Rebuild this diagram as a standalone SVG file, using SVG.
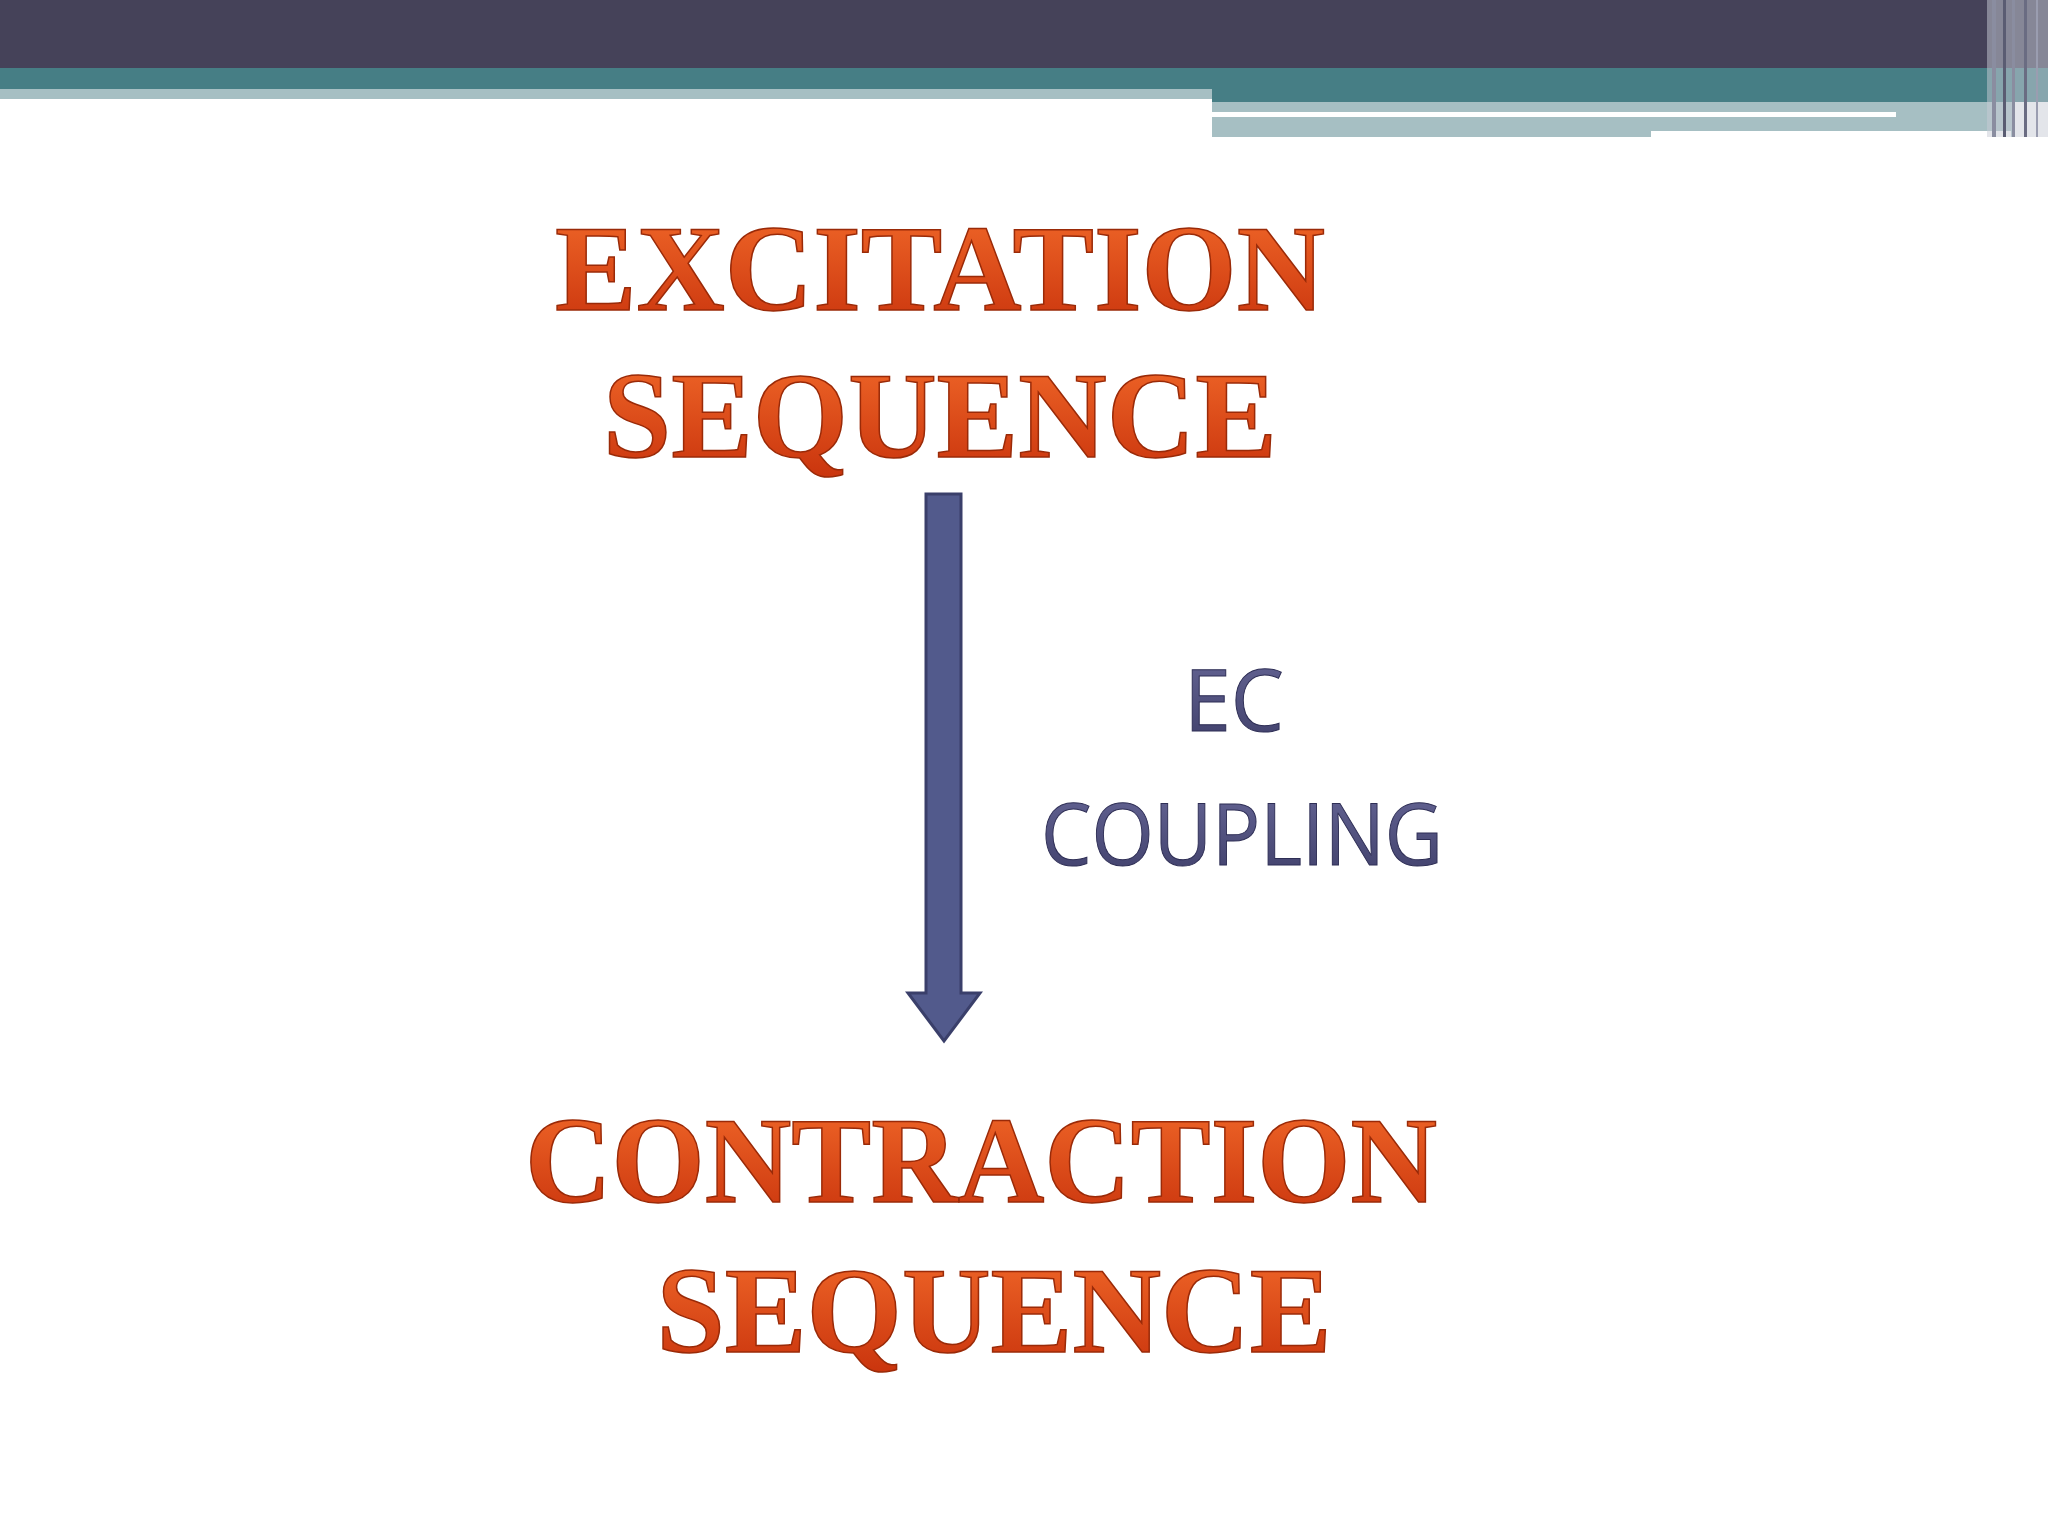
<svg xmlns="http://www.w3.org/2000/svg" width="2048" height="1536" viewBox="0 0 2048 1536">
<defs>
<linearGradient id="og" x1="0" y1="0" x2="0" y2="1"><stop offset="0" stop-color="#f26a2a"/><stop offset="1" stop-color="#c8320c"/></linearGradient>
<linearGradient id="bg" x1="0" y1="0" x2="0" y2="1"><stop offset="0" stop-color="#6a6a9a"/><stop offset="1" stop-color="#3c3c66"/></linearGradient>
<style>
.t{font-family:"Liberation Serif",serif;font-weight:bold;font-size:122px;fill:url(#og);stroke:#9a2a08;stroke-width:1.5;text-anchor:middle}
.s{font-family:"Open Sans","Liberation Sans",sans-serif;font-size:86px;fill:url(#bg);stroke:#2e2e55;stroke-width:1;text-anchor:middle}
</style>
</defs>
<rect width="2048" height="1536" fill="#fff"/>
<g id="header">
<rect x="0" y="0" width="2048" height="68" fill="#454259"/>
<rect x="0" y="68" width="2048" height="21" fill="#467e85"/>
<rect x="0" y="89" width="1212" height="10" fill="#a6bfc3"/>
<rect x="1212" y="89" width="836" height="13" fill="#467e85"/>
<rect x="1212" y="102" width="800" height="35" fill="#a6bfc3"/>
<rect x="1212" y="112" width="684" height="5" fill="#fff"/>
<rect x="1651" y="131" width="360" height="6" fill="#fff"/>
<rect x="1987" y="0" width="61" height="137" fill="#c8ccd6" opacity="0.5"/>
<rect x="1992" y="0" width="4" height="137" fill="#8a8da0"/>
<rect x="2003" y="0" width="3" height="137" fill="#5a5c72"/>
<rect x="2012" y="0" width="3" height="137" fill="#8a8da0"/>
<rect x="2024" y="0" width="3" height="137" fill="#6a6c82"/>
<rect x="2036" y="0" width="2" height="137" fill="#9a9db0"/>
</g>
<g id="excitation">
<text class="t" x="940" y="310" textLength="770" lengthAdjust="spacingAndGlyphs">EXCITATION</text>
<text class="t" x="940" y="457" textLength="674" lengthAdjust="spacingAndGlyphs">SEQUENCE</text>
</g>
<g id="connectors">
<path d="M926 494 H961 V993 H980 L944 1041 L908 993 H926 Z" fill="#525a8c" stroke="#3a3f6a" stroke-width="3"/>
</g>
<g id="ec-coupling">
<text class="s" x="1234" y="731" textLength="100" lengthAdjust="spacingAndGlyphs">EC</text>
<text class="s" x="1242" y="865" textLength="402" lengthAdjust="spacingAndGlyphs">COUPLING</text>
</g>
<g id="contraction">
<text class="t" x="981" y="1202" textLength="912" lengthAdjust="spacingAndGlyphs">CONTRACTION</text>
<text class="t" x="994" y="1352" textLength="675" lengthAdjust="spacingAndGlyphs">SEQUENCE</text>
</g>
</svg>
